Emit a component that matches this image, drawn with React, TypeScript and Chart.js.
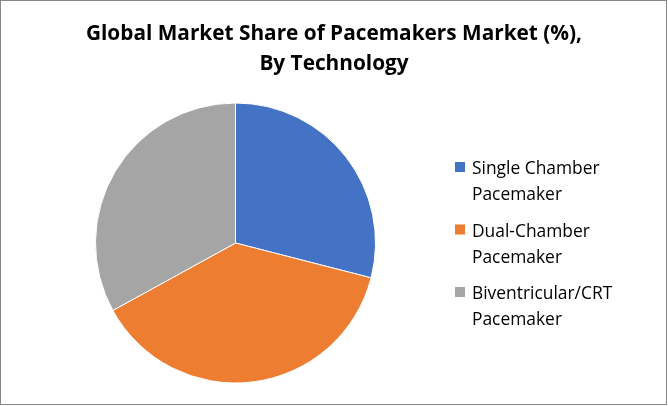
import React, { useEffect, useRef } from "react";
import { Chart, registerables } from "chart.js";

Chart.register(...registerables);

const titleLines = ["Global Market Share of Pacemakers Market (%),", "By Technology"];
const categories: string[][] = [
  ["Single Chamber", "Pacemaker"],
  ["Dual-Chamber", "Pacemaker"],
  ["Biventricular/CRT", "Pacemaker"],
];
const shares = [29, 38, 33];
const colors = ["#4472C4", "#ED7D31", "#A5A5A5"];

const W = 668;
const H = 406;

const decorPlugin = {
  id: "decor",
  afterDraw(chart: any) {
    const ctx = chart.ctx as CanvasRenderingContext2D;
    ctx.save();
    // outer border
    ctx.strokeStyle = "#878787";
    ctx.lineWidth = 1;
    ctx.strokeRect(0.5, 0.5, 666, 404);
    // title
    ctx.fillStyle = "#000";
    ctx.textAlign = "center";
    ctx.textBaseline = "alphabetic";
    ctx.font = "bold 20.8px 'Open Sans'";
    titleLines.forEach((t, i) => ctx.fillText(t, 334, 40 + i * 30));
    // legend
    const labels = chart.data.labels as string[][];
    const bg = chart.data.datasets[0].backgroundColor as string[];
    ctx.textAlign = "left";
    ctx.font = "17.4px 'Open Sans'";
    labels.forEach((lines, i) => {
      const base = 174 + i * 62.5;
      ctx.fillStyle = bg[i];
      ctx.fillRect(455, base - 12, 10, 10);
      ctx.fillStyle = "#000";
      lines.forEach((ln, j) => ctx.fillText(ln, 472, base + j * 26));
    });
    ctx.restore();
  },
};

export default function App() {
  const ref = useRef<HTMLCanvasElement>(null);
  useEffect(() => {
    document.body.style.margin = "0";
    const chart = new Chart(ref.current!, {
      type: "pie",
      data: {
        labels: categories,
        datasets: [
          {
            data: shares,
            backgroundColor: colors,
            borderColor: "#ffffff",
            borderWidth: 1,
          },
        ],
      },
      options: {
        responsive: false,
        animation: false,
        devicePixelRatio: 1,
        layout: { padding: { left: 95, top: 102, right: 292, bottom: 22 } },
        plugins: {
          legend: { display: false },
          title: { display: false },
          tooltip: { enabled: false },
        },
      },
      plugins: [decorPlugin],
    });
    return () => chart.destroy();
  }, []);
  return (
    <div style={{ width: W, height: H, background: "#fff" }}>
      <canvas ref={ref} width={W} height={H} style={{ display: "block", width: W, height: H }} />
    </div>
  );
}
